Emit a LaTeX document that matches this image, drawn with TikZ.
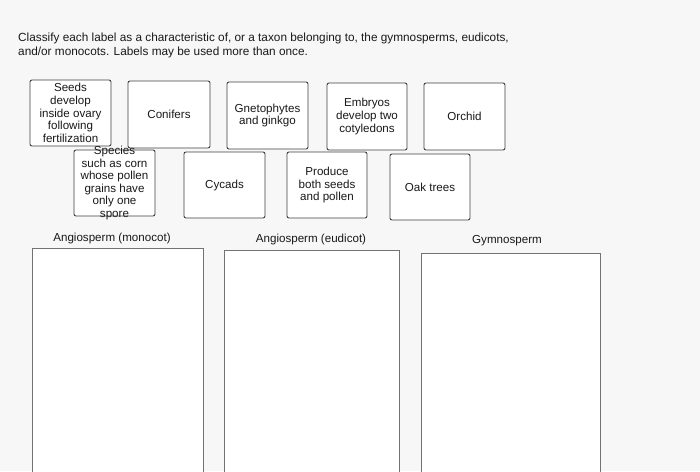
\documentclass[tikz,border=0pt]{standalone}
\usepackage{fontspec}
\setmainfont{Liberation Sans}
\begin{document}
\begin{tikzpicture}[x=1pt,y=-1pt,
 card/.style={draw=black!75,line width=0.9pt,rounded corners=2pt,fill=white},
 lbl/.style={font=\fontsize{11.6}{12.6}\selectfont,align=center,text=black!90},
 zone/.style={draw=black!55,line width=0.6pt,fill=white}]
\fill[black!3] (0,0) rectangle (700,471);
\useasboundingbox (0,0) rectangle (700,471);
\node[anchor=west,font=\fontsize{11.8}{14}\selectfont,text=black!90,inner sep=0pt] (t1) at (18,38) {Classify each label as a characteristic of, or a taxon belonging to, the gymnosperms, eudicots,};
\node[anchor=west,font=\fontsize{11.8}{14}\selectfont,text=black!90,inner sep=0pt] (t2) at (18,52) {and/or monocots. Labels may be used more than once.};
\def\card#1#2#3#4#5#6{\draw[card] (#2,#3) rectangle (#4,#5); \node[lbl] (#1) at ({(#2+#4)/2},{(#3+#5)/2}) {#6};}
\card{a}{30}{80}{111}{146}{Seeds\\develop\\inside ovary\\following\\fertilization}
\card{b}{128}{81}{210}{148}{Conifers}
\card{c}{227}{82}{308}{149}{Gnetophytes\\and ginkgo}
\card{d}{327}{83}{407}{150}{Embryos\\develop two\\cotyledons}
\card{e}{424}{83}{505}{150}{Orchid}
\card{f}{74}{150}{155}{216}{Species\\such as corn\\whose pollen\\grains have\\only one\\spore}
\card{g}{184}{152}{265}{218}{Cycads}
\card{h}{287}{152}{367}{218}{Produce\\both seeds\\and pollen}
\card{i}{390}{154}{470}{220}{Oak trees}
\node[lbl] (m) at (112,238) {Angiosperm (monocot)};
\node[lbl] (n) at (311,239) {Angiosperm (eudicot)};
\node[lbl] (o) at (507,241) {Gymnosperm};
\draw[zone] (32,248) rectangle (203,475);
\draw[zone] (224,250) rectangle (399,475);
\draw[zone] (421,253) rectangle (600,475);
\end{tikzpicture}
\end{document}
